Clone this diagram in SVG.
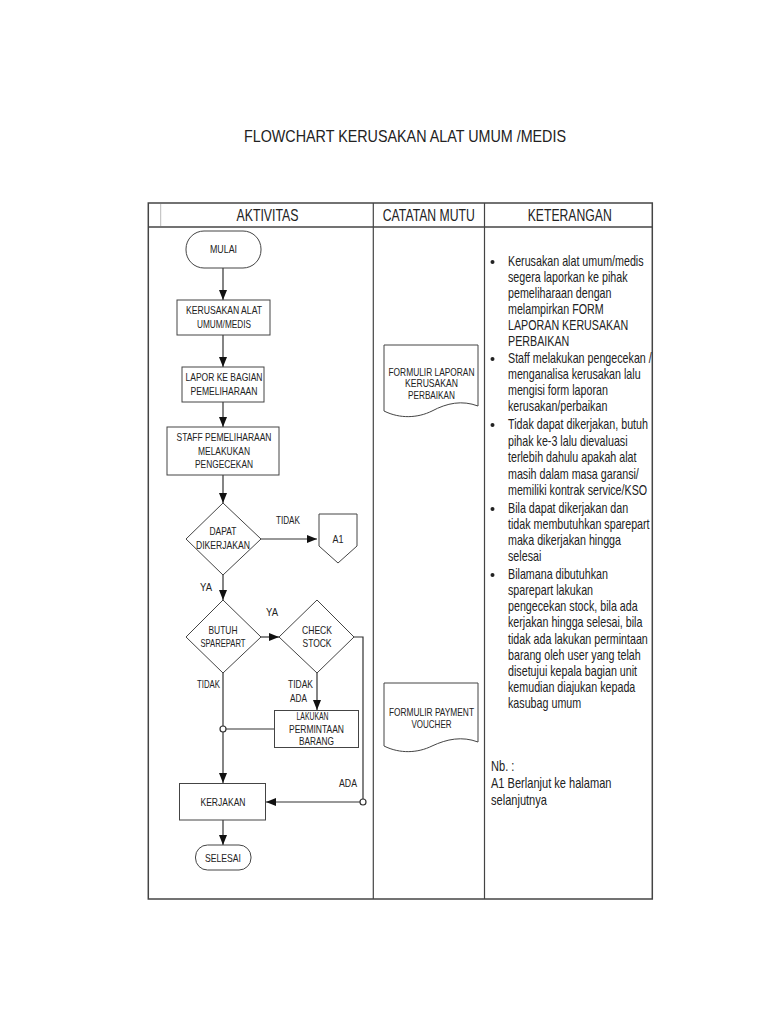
<svg xmlns="http://www.w3.org/2000/svg" width="768" height="1024" viewBox="0 0 768 1024">
<style>
text{font-family:"Liberation Sans",Arial,sans-serif;fill:#222}
.n{font-size:11.5px;text-anchor:middle}
.l{font-size:11.5px}
.h{font-size:16.5px;text-anchor:middle}
.k{font-size:14px}
.s{fill:#fff;stroke:#444;stroke-width:1}
.c{fill:none;stroke:#333;stroke-width:1.2}
.tb{fill:none;stroke:#444;stroke-width:1.5}
</style>
<defs>
<marker id="ah" markerUnits="userSpaceOnUse" markerWidth="11" markerHeight="9" refX="10" refY="4" orient="auto">
<path d="M0,0 L10,4 L0,8 Z" fill="#111"/>
</marker>
</defs>
<rect width="768" height="1024" fill="#fff"/>
<text id="title" x="405" y="141.5" style="font-size:17px;text-anchor:middle" textLength="322" lengthAdjust="spacingAndGlyphs">FLOWCHART KERUSAKAN ALAT UMUM /MEDIS</text>
<g id="table">
<rect class="tb" x="148.3" y="203" width="504" height="696"/>
<line class="tb" x1="148.3" y1="227" x2="652.3" y2="227"/>
<line class="tb" x1="373.3" y1="203" x2="373.3" y2="899" style="stroke-width:1.2"/>
<line class="tb" x1="484.5" y1="203" x2="484.5" y2="899" style="stroke-width:1.2"/>
<line x1="160.7" y1="204" x2="160.7" y2="226" stroke="#bbb" stroke-width="1"/>
<text class="h" x="267.5" y="221" textLength="62" lengthAdjust="spacingAndGlyphs">AKTIVITAS</text>
<text class="h" x="428.8" y="221" textLength="92" lengthAdjust="spacingAndGlyphs">CATATAN MUTU</text>
<text class="h" x="569.7" y="221" textLength="84" lengthAdjust="spacingAndGlyphs">KETERANGAN</text>
</g>
<g id="connectors">
<path class="c" d="M223,268 V300" marker-end="url(#ah)"/>
<path class="c" d="M223,335 V367" marker-end="url(#ah)"/>
<path class="c" d="M223,402 V427" marker-end="url(#ah)"/>
<path class="c" d="M223,475 V503" marker-end="url(#ah)"/>
<path class="c" d="M261,539 H317" marker-end="url(#ah)"/>
<path class="c" d="M223,575 V600" marker-end="url(#ah)"/>
<path class="c" d="M261,637 H279" marker-end="url(#ah)"/>
<path class="c" d="M354,637 H363 V802 H266" marker-end="url(#ah)"/>
<path class="c" d="M317,673 V710" marker-end="url(#ah)"/>
<path class="c" d="M274,729 H223"/>
<path class="c" d="M223,673 V783" marker-end="url(#ah)"/>
<path class="c" d="M223,820 V845" marker-end="url(#ah)"/>
<circle cx="223" cy="729" r="3" fill="#fff" stroke="#333" stroke-width="1.2"/>
<circle cx="363" cy="802" r="3" fill="#fff" stroke="#333" stroke-width="1.2"/>
<text class="l" x="276" y="524" textLength="24" lengthAdjust="spacingAndGlyphs">TIDAK</text>
<text class="l" x="200" y="591" textLength="12" lengthAdjust="spacingAndGlyphs">YA</text>
<text class="l" x="266" y="616" textLength="12" lengthAdjust="spacingAndGlyphs">YA</text>
<text class="l" x="197" y="688" textLength="23" lengthAdjust="spacingAndGlyphs">TIDAK</text>
<text class="l" x="288" y="688" textLength="25" lengthAdjust="spacingAndGlyphs">TIDAK</text>
<text class="l" x="290" y="702" textLength="17" lengthAdjust="spacingAndGlyphs">ADA</text>
<text class="l" x="339" y="787" textLength="18" lengthAdjust="spacingAndGlyphs">ADA</text>
</g>
<g id="mulai">
<rect class="s" x="186" y="231" width="75" height="37" rx="18" ry="18"/>
<text class="n" x="223.5" y="253" textLength="27" lengthAdjust="spacingAndGlyphs">MULAI</text>
</g>
<g id="kerusakan">
<rect class="s" x="177" y="300" width="93" height="35"/>
<text class="n" x="224" y="314" textLength="76" lengthAdjust="spacingAndGlyphs">KERUSAKAN ALAT</text>
<text class="n" x="224" y="327.5" textLength="54" lengthAdjust="spacingAndGlyphs">UMUM/MEDIS</text>
</g>
<g id="lapor">
<rect class="s" x="182" y="367" width="82" height="35"/>
<text class="n" x="224" y="381" textLength="77" lengthAdjust="spacingAndGlyphs">LAPOR KE BAGIAN</text>
<text class="n" x="224" y="394.5" textLength="67" lengthAdjust="spacingAndGlyphs">PEMELIHARAAN</text>
</g>
<g id="staff">
<rect class="s" x="167" y="427" width="112" height="48"/>
<text class="n" x="224" y="441" textLength="95" lengthAdjust="spacingAndGlyphs">STAFF PEMELIHARAAN</text>
<text class="n" x="224" y="454.5" textLength="52" lengthAdjust="spacingAndGlyphs">MELAKUKAN</text>
<text class="n" x="224" y="468" textLength="58" lengthAdjust="spacingAndGlyphs">PENGECEKAN</text>
</g>
<g id="dapat">
<polygon class="s" points="223,503 261,539 223,575 186,539"/>
<text class="n" x="223" y="535" textLength="27" lengthAdjust="spacingAndGlyphs">DAPAT</text>
<text class="n" x="223" y="548.5" textLength="54" lengthAdjust="spacingAndGlyphs">DIKERJAKAN</text>
</g>
<g id="a1">
<polygon class="s" points="319,514 357,514 357,546 338,563 319,546"/>
<text class="n" x="338" y="543" textLength="11" lengthAdjust="spacingAndGlyphs">A1</text>
</g>
<g id="butuh">
<polygon class="s" points="223,600 261,637 223,673 186,637"/>
<text class="n" x="223" y="634" textLength="29" lengthAdjust="spacingAndGlyphs">BUTUH</text>
<text class="n" x="223" y="647" textLength="45" lengthAdjust="spacingAndGlyphs">SPAREPART</text>
</g>
<g id="check">
<polygon class="s" points="317,600 354,637 317,673 279,637"/>
<text class="n" x="317" y="634" textLength="30" lengthAdjust="spacingAndGlyphs">CHECK</text>
<text class="n" x="317" y="647" textLength="29" lengthAdjust="spacingAndGlyphs">STOCK</text>
</g>
<g id="lakukan">
<rect class="s" x="274.5" y="710.5" width="84" height="37"/>
<text class="n" x="312.5" y="719.5" textLength="32" lengthAdjust="spacingAndGlyphs">LAKUKAN</text>
<text class="n" x="316.5" y="733" textLength="55" lengthAdjust="spacingAndGlyphs">PERMINTAAN</text>
<text class="n" x="316.5" y="745" textLength="35" lengthAdjust="spacingAndGlyphs">BARANG</text>
</g>
<g id="kerjakan">
<rect class="s" x="179.5" y="783.5" width="86" height="36.5"/>
<text class="n" x="223" y="805.5" textLength="45" lengthAdjust="spacingAndGlyphs">KERJAKAN</text>
</g>
<g id="selesai">
<rect class="s" x="195.5" y="845" width="55.5" height="25" rx="12" ry="12"/>
<text class="n" x="223" y="862" textLength="36" lengthAdjust="spacingAndGlyphs">SELESAI</text>
</g>
<g id="doc-laporan">
<path class="s" d="M384,345 H478 V406 C462,400 447,403 432,411 C418,418 400,419 384,411 Z"/>
<text class="n" x="431.5" y="375.5" textLength="86" lengthAdjust="spacingAndGlyphs">FORMULIR LAPORAN</text>
<text class="n" x="431.5" y="387" textLength="53" lengthAdjust="spacingAndGlyphs">KERUSAKAN</text>
<text class="n" x="431.5" y="398.5" textLength="47" lengthAdjust="spacingAndGlyphs">PERBAIKAN</text>
</g>
<g id="doc-payment">
<path class="s" d="M384,683 H478 V742 C462,736 447,739 432,746 C418,753 400,754 384,746 Z"/>
<text class="n" x="431.5" y="715.5" textLength="85" lengthAdjust="spacingAndGlyphs">FORMULIR PAYMENT</text>
<text class="n" x="431.5" y="727.5" textLength="40" lengthAdjust="spacingAndGlyphs">VOUCHER</text>
</g>
<g id="keterangan">
<circle cx="492.5" cy="262" r="2" fill="#222"/>
<circle cx="492.5" cy="359" r="2" fill="#222"/>
<circle cx="492.5" cy="425" r="2" fill="#222"/>
<circle cx="492.5" cy="509" r="2" fill="#222"/>
<circle cx="492.5" cy="575" r="2" fill="#222"/>
<g transform="translate(508 0) scale(0.765 1)">
<text class="k" x="0" y="266.5">Kerusakan alat umum/medis</text>
<text class="k" x="0" y="282.5">segera laporkan ke pihak</text>
<text class="k" x="0" y="298.5">pemeliharaan dengan</text>
<text class="k" x="0" y="314.5">melampirkan FORM</text>
<text class="k" x="0" y="330.5">LAPORAN KERUSAKAN</text>
<text class="k" x="0" y="346.5">PERBAIKAN</text>
<text class="k" x="0" y="363.5">Staff melakukan pengecekan /</text>
<text class="k" x="0" y="379.5">menganalisa kerusakan lalu</text>
<text class="k" x="0" y="395.5">mengisi form laporan</text>
<text class="k" x="0" y="411.5">kerusakan/perbaikan</text>
<text class="k" x="0" y="429.5">Tidak dapat dikerjakan, butuh</text>
<text class="k" x="0" y="446">pihak ke-3 lalu dievaluasi</text>
<text class="k" x="0" y="462.5">terlebih dahulu apakah alat</text>
<text class="k" x="0" y="479">masih dalam masa garansi/</text>
<text class="k" x="0" y="495.5">memiliki kontrak service/KSO</text>
<text class="k" x="0" y="513.5">Bila dapat dikerjakan dan</text>
<text class="k" x="0" y="529.5">tidak membutuhkan sparepart</text>
<text class="k" x="0" y="545.5">maka dikerjakan hingga</text>
<text class="k" x="0" y="561.5">selesai</text>
<text class="k" x="0" y="579.5">Bilamana dibutuhkan</text>
<text class="k" x="0" y="595.5">sparepart lakukan</text>
<text class="k" x="0" y="611.5">pengecekan stock, bila ada</text>
<text class="k" x="0" y="627.5">kerjakan hingga selesai, bila</text>
<text class="k" x="0" y="644">tidak ada lakukan permintaan</text>
<text class="k" x="0" y="660.5">barang oleh user yang telah</text>
<text class="k" x="0" y="676.5">disetujui kepala bagian unit</text>
<text class="k" x="0" y="692.5">kemudian diajukan kepada</text>
<text class="k" x="0" y="708">kasubag umum</text>
</g>
<g transform="translate(491 0) scale(0.79 1)">
<text class="k" x="0" y="771">Nb. :</text>
<text class="k" x="0" y="788">A1 Berlanjut ke halaman</text>
<text class="k" x="0" y="805">selanjutnya</text>
</g>
</g>
</svg>
